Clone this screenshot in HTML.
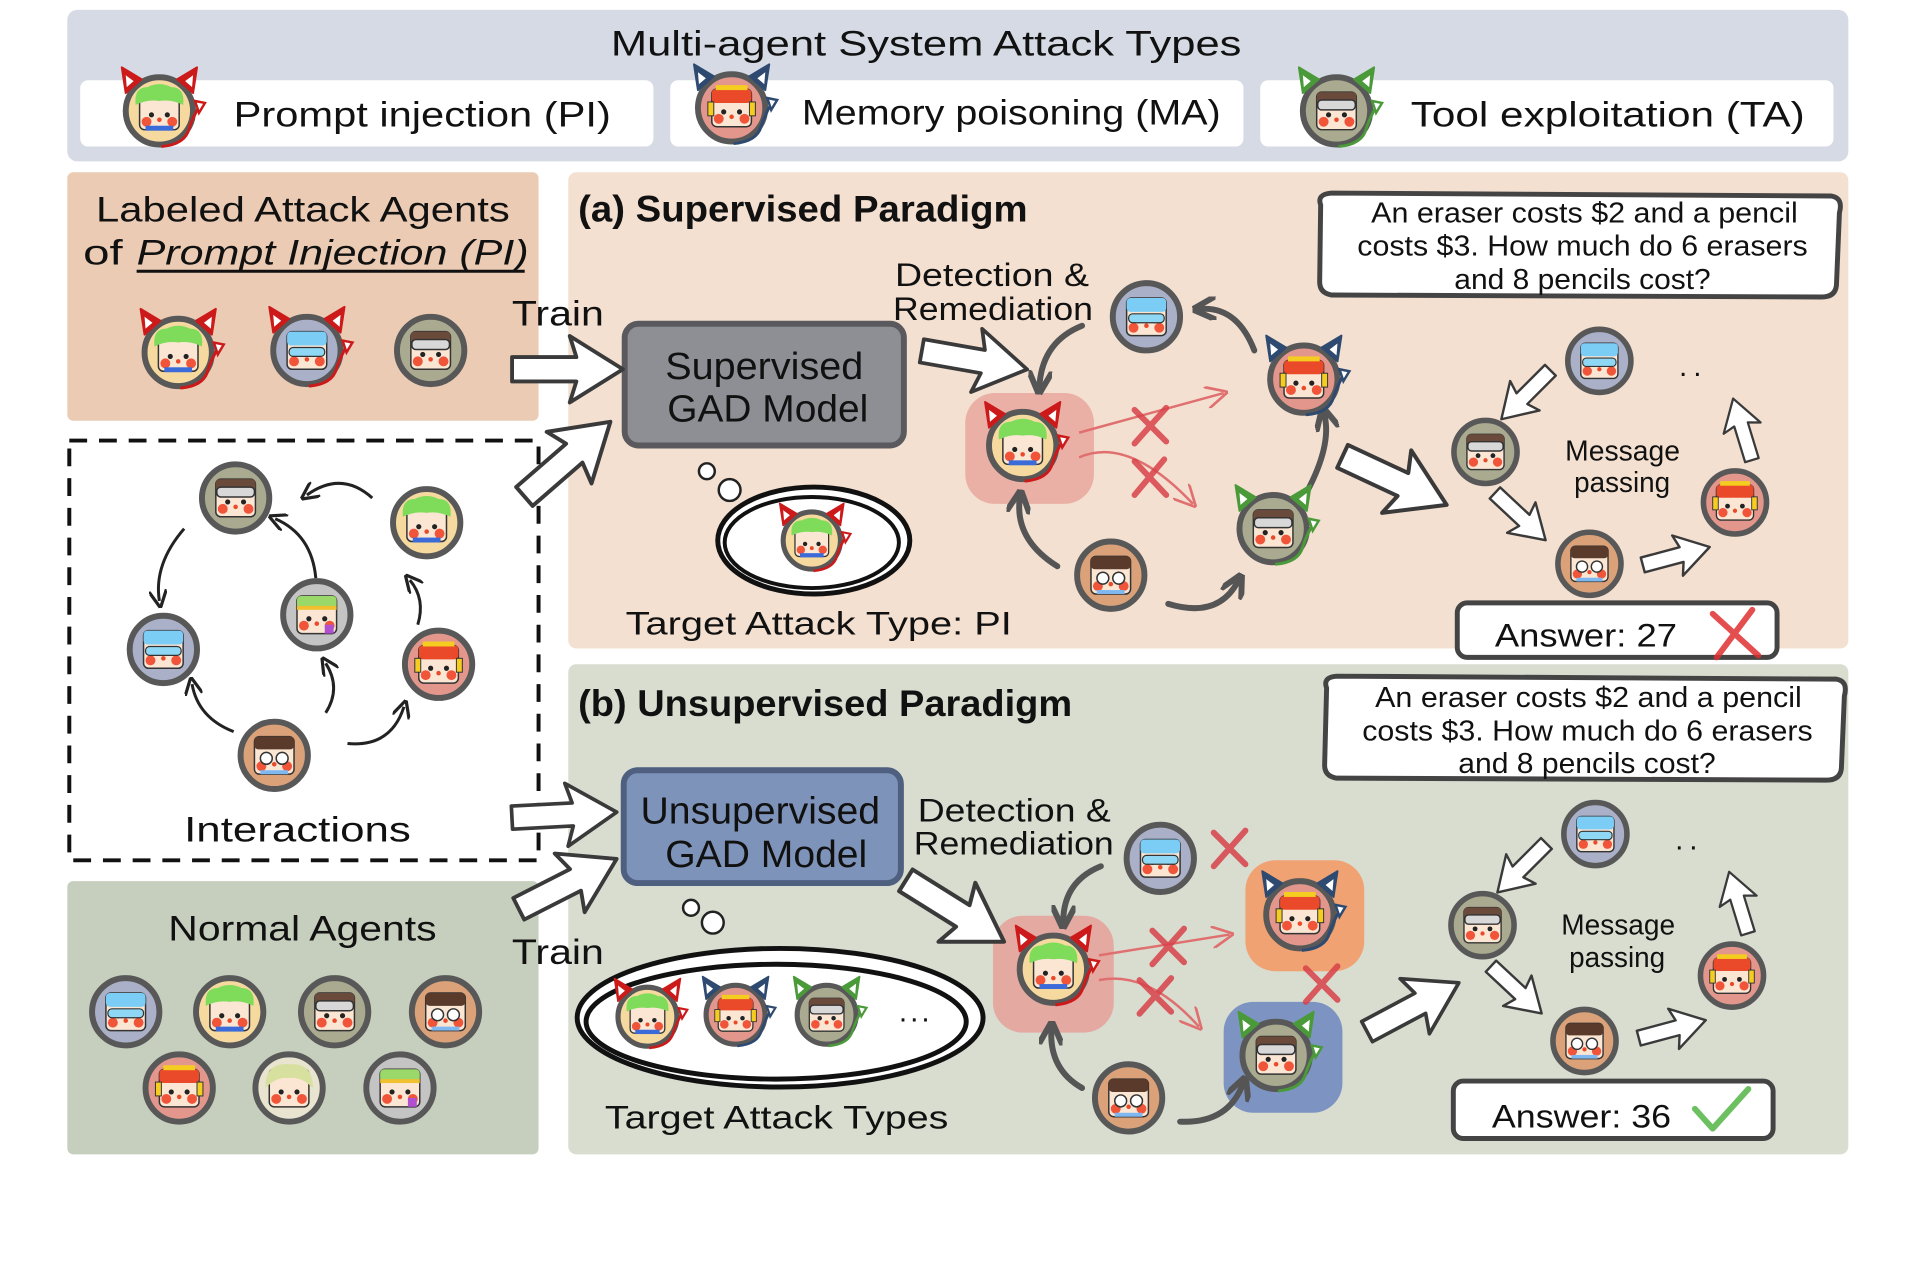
<!DOCTYPE html>
<html><head><meta charset="utf-8"><style>
html,body{margin:0;padding:0;background:#fff;}
svg{display:block;}
text{font-family:"Liberation Sans",sans-serif;fill:#111;}
</style></head><body>
<svg width="1928" height="1276" viewBox="0 0 1928 1276" xmlns="http://www.w3.org/2000/svg">
<defs>
<marker id="ah" viewBox="0 0 10 10" refX="6" refY="5" markerWidth="4" markerHeight="4" orient="auto"><path d="M0,0 L10,5 L0,10" fill="none" stroke="#555" stroke-width="2.5"/></marker>
<marker id="ahk" viewBox="0 0 10 10" refX="6" refY="5" markerWidth="6" markerHeight="6" orient="auto"><path d="M0,0 L10,5 L0,10" fill="none" stroke="#222" stroke-width="1.8"/></marker>
<marker id="ahr" viewBox="0 0 10 10" refX="8" refY="5" markerWidth="9" markerHeight="9" orient="auto"><path d="M0,0 L10,5 L0,10" fill="none" stroke="#e07070" stroke-width="1.2"/></marker>
<symbol id="harrow" viewBox="-2 -32 106 64" overflow="visible"><path d="M0,-11 L58,-11 L52,-30 L100,0 L52,30 L58,11 L0,11 Z" fill="#fff" stroke="#3a3a3a" stroke-width="3.5" stroke-linejoin="round"/></symbol>
<g id="face">
<rect x="-20" y="-19" width="40" height="38" rx="5" fill="#fbe6d4" stroke="#333" stroke-width="1.5"/>
<circle cx="-8" cy="4" r="2.6" fill="#222"/><circle cx="8" cy="4" r="2.6" fill="#222"/>
<circle cx="-13" cy="11" r="5" fill="#f0553a"/><circle cx="13" cy="11" r="5" fill="#f0553a"/>
<circle cx="0" cy="9" r="2.3" fill="#e84a2a"/>
</g>
<symbol id="clown" viewBox="-40 -40 80 80"><circle r="34" fill="#f5d99e" stroke="#585858" stroke-width="6"/><use href="#face"/><path d="M-24,-6 Q-26,-24 -12,-24 Q0,-30 12,-24 Q26,-24 24,-6 Q12,-12 0,-10 Q-12,-12 -24,-6Z" fill="#7fdc5a"/><rect x="-14" y="15" width="28" height="5" fill="#3a6bd8"/></symbol>
<symbol id="blue" viewBox="-40 -40 80 80"><circle r="34" fill="#aab0c8" stroke="#585858" stroke-width="6"/><use href="#face"/><rect x="-20" y="-19" width="40" height="14" rx="4" fill="#7ccdf5"/><rect x="-18" y="-3" width="36" height="9" rx="4" fill="#8fd8f5" stroke="#333" stroke-width="1.2"/></symbol>
<symbol id="pilot" viewBox="-40 -40 80 80"><circle r="34" fill="#a9aa90" stroke="#585858" stroke-width="6"/><use href="#face"/><rect x="-20" y="-19" width="40" height="12" rx="4" fill="#6a4a3a"/><rect x="-19" y="-11" width="38" height="10" rx="4" fill="#d8d8d8" stroke="#333" stroke-width="1.5"/></symbol>
<symbol id="headset" viewBox="-40 -40 80 80"><circle r="34" fill="#e3978c" stroke="#585858" stroke-width="6"/><use href="#face"/><rect x="-20" y="-19" width="40" height="14" rx="4" fill="#ea4a2a"/><rect x="-16" y="-23" width="32" height="5" fill="#f5cc20"/><rect x="-24" y="-6" width="6" height="14" fill="#f5cc20" stroke="#333" stroke-width="1"/><rect x="18" y="-6" width="6" height="14" fill="#f5cc20" stroke="#333" stroke-width="1"/></symbol>
<symbol id="glasses" viewBox="-40 -40 80 80"><circle r="34" fill="#dba27a" stroke="#585858" stroke-width="6"/><use href="#face"/><rect x="-20" y="-19" width="40" height="13" rx="4" fill="#5a3a2a"/><circle cx="-8" cy="3" r="6" fill="#fff" stroke="#333" stroke-width="1.5"/><circle cx="8" cy="3" r="6" fill="#fff" stroke="#333" stroke-width="1.5"/><rect x="-14" y="15" width="28" height="4" fill="#7fb8f0"/></symbol>
<symbol id="cap" viewBox="-40 -40 80 80"><circle r="34" fill="#c4c4c4" stroke="#585858" stroke-width="6"/><use href="#face"/><rect x="-20" y="-19" width="40" height="13" rx="4" fill="#9ad86a"/><rect x="-20" y="-9" width="40" height="4" fill="#f0c030"/><rect x="8" y="10" width="9" height="9" fill="#b050d0"/></symbol>
<symbol id="blonde" viewBox="-40 -40 80 80"><circle r="34" fill="#e8e4d0" stroke="#585858" stroke-width="6"/><use href="#face"/><path d="M-24,0 Q-24,-26 0,-24 Q24,-26 24,0 Q12,-12 0,-10 Q-12,-12 -24,0Z" fill="#d8e0a0"/></symbol>
<symbol id="horns" viewBox="-40 -40 80 80" overflow="visible"><path d="M-34,-18 L-38,-44 L-18,-32 Z M34,-18 L38,-44 L18,-32 Z" fill="currentColor" stroke="currentColor" stroke-width="2" stroke-linejoin="round"/><path d="M-33,-24 L-34,-36 L-26,-30Z M33,-24 L34,-36 L26,-30Z" fill="#fff"/><path d="M2,36 Q26,34 30,18 Q34,6 40,-4" fill="none" stroke="currentColor" stroke-width="3"/><path d="M36,-10 L46,-8 L40,2 Z" fill="#fff" stroke="currentColor" stroke-width="2.5"/></symbol>
</defs>
<g transform="scale(0.99)">
<!-- top banner -->
<rect x="68" y="10" width="1799" height="153" rx="10" fill="#d5dae4"/>
<text x="617" y="56" font-size="36" textLength="637" lengthAdjust="spacingAndGlyphs">Multi-agent System Attack Types</text>
<rect x="81" y="81" width="579" height="67" rx="8" fill="#fff"/>
<rect x="677" y="81" width="579" height="67" rx="8" fill="#fff"/>
<rect x="1273" y="81" width="579" height="67" rx="8" fill="#fff"/>
<use href="#clown" x="121" y="72" width="80" height="80"/><use href="#horns" x="121" y="72" width="80" height="80" color="#cc1a1a"/>
<use href="#headset" x="699" y="69" width="80" height="80"/><use href="#horns" x="699" y="69" width="80" height="80" color="#2e4a70"/>
<use href="#pilot" x="1310" y="72" width="80" height="80"/><use href="#horns" x="1310" y="72" width="80" height="80" color="#4a9a3a"/>
<text x="236" y="128" font-size="36" textLength="381" lengthAdjust="spacingAndGlyphs">Prompt injection (PI)</text>
<text x="810" y="126" font-size="36" textLength="423" lengthAdjust="spacingAndGlyphs">Memory poisoning (MA)</text>
<text x="1425" y="128" font-size="36" textLength="398" lengthAdjust="spacingAndGlyphs">Tool exploitation (TA)</text>

<!-- left panels -->
<rect x="68" y="174" width="476" height="251" rx="6" fill="#ebcbb3"/>
<text x="97" y="224" font-size="36" textLength="418" lengthAdjust="spacingAndGlyphs">Labeled Attack Agents</text>
<text x="84" y="267" font-size="36" textLength="40" lengthAdjust="spacingAndGlyphs">of</text>
<text x="138" y="267" font-size="36" font-style="italic" textLength="396" lengthAdjust="spacingAndGlyphs">Prompt Injection (PI)</text>
<line x1="138" y1="274" x2="530" y2="274" stroke="#111" stroke-width="3"/>
<use href="#clown" x="140" y="316" width="80" height="80"/><use href="#horns" x="140" y="316" width="80" height="80" color="#cc1a1a"/>
<use href="#blue" x="270" y="314" width="80" height="80"/><use href="#horns" x="270" y="314" width="80" height="80" color="#cc1a1a"/>
<use href="#pilot" x="395" y="314" width="80" height="80"/>

<rect x="70" y="445" width="474" height="424" fill="none" stroke="#111" stroke-width="4" stroke-dasharray="18 12"/>
<use href="#pilot" x="198" y="463" width="80" height="80"/>
<use href="#clown" x="391" y="488" width="80" height="80"/>
<use href="#cap" x="280" y="581" width="80" height="80"/>
<use href="#blue" x="125" y="616" width="80" height="80"/>
<use href="#headset" x="403" y="631" width="80" height="80"/>
<use href="#glasses" x="237" y="723" width="80" height="80"/>
<g fill="none" stroke="#222" stroke-width="3" marker-end="url(#ahk)">
<path d="M376,503 Q345,475 310,500"/><path d="M319,584 Q315,540 278,524"/><path d="M186,534 Q155,570 161,607"/><path d="M236,739 Q200,725 194,691"/><path d="M329,720 Q345,695 329,670"/><path d="M351,751 Q395,755 408,714"/><path d="M422,631 Q430,605 414,586"/>
</g>
<text x="186" y="850" font-size="36" textLength="229" lengthAdjust="spacingAndGlyphs">Interactions</text>

<rect x="68" y="890" width="476" height="276" rx="6" fill="#c6cfbd"/>
<text x="170" y="950" font-size="36" textLength="271" lengthAdjust="spacingAndGlyphs">Normal Agents</text>
<use href="#blue" x="87" y="982" width="80" height="80"/>
<use href="#clown" x="192" y="982" width="80" height="80"/>
<use href="#pilot" x="298" y="982" width="80" height="80"/>
<use href="#glasses" x="410" y="982" width="80" height="80"/>
<use href="#headset" x="141" y="1059" width="80" height="80"/>
<use href="#blonde" x="252" y="1059" width="80" height="80"/>
<use href="#cap" x="364" y="1059" width="80" height="80"/>

<!-- supervised panel -->
<rect x="574" y="174" width="1293" height="481" rx="8" fill="#f3e0d1"/>
<text x="584" y="224" font-size="37" font-weight="bold" textLength="454" lengthAdjust="spacingAndGlyphs">(a) Supervised Paradigm</text>
<text x="517" y="329" font-size="36" textLength="93" lengthAdjust="spacingAndGlyphs">Train</text>
<rect x="631" y="327" width="282" height="123" rx="14" fill="#8e8f95" stroke="#5a5a5e" stroke-width="6"/>
<text x="672" y="383" font-size="38" textLength="200" lengthAdjust="spacingAndGlyphs">Supervised</text>
<text x="674" y="426" font-size="38" textLength="203" lengthAdjust="spacingAndGlyphs">GAD Model</text>
<circle cx="714" cy="476" r="8" fill="#fff" stroke="#222" stroke-width="2.5"/>
<circle cx="737" cy="495" r="11" fill="#fff" stroke="#222" stroke-width="2.5"/>
<ellipse cx="822" cy="546" rx="97" ry="54" fill="#fff" stroke="#111" stroke-width="5"/>
<ellipse cx="820" cy="548" rx="88" ry="46" fill="none" stroke="#111" stroke-width="4"/>
<use href="#clown" x="786" y="512" width="68" height="68"/><use href="#horns" x="786" y="512" width="68" height="68" color="#cc1a1a"/>
<text x="632" y="641" font-size="33" textLength="390" lengthAdjust="spacingAndGlyphs">Target Attack Type: PI</text>
<text x="904" y="289" font-size="33" textLength="196" lengthAdjust="spacingAndGlyphs">Detection &amp;</text>
<text x="902" y="323" font-size="33" textLength="202" lengthAdjust="spacingAndGlyphs">Remediation</text>

<rect x="975" y="397" width="130" height="112" rx="30" fill="#eab0a6"/>
<g fill="none" stroke="#e07070" stroke-width="2.5" marker-end="url(#ahr)"><path d="M1090,437 L1236,397"/><path d="M1090,462 Q1140,440 1205,509"/></g>
<g stroke="#d8424a" stroke-width="6" stroke-linecap="round" opacity="0.85"><path d="M1146,414 L1178,446 M1178,412 L1146,448"/><path d="M1146,466 L1178,500 M1176,464 L1146,500"/></g>
<g fill="none" stroke="#555" stroke-width="6" stroke-linecap="round" marker-end="url(#ah)">
<path d="M1093,329 Q1053,345 1050,389"/><path d="M1267,354 Q1250,310 1214,312"/><path d="M1320,497 Q1345,450 1338,420"/><path d="M1180,610 Q1230,625 1250,588"/><path d="M1068,572 Q1025,545 1030,504"/>
</g>
<use href="#clown" x="993" y="410" width="80" height="80"/><use href="#horns" x="993" y="410" width="80" height="80" color="#cc1a1a"/>
<use href="#blue" x="1118" y="280" width="80" height="80"/>
<use href="#headset" x="1277" y="343" width="80" height="80"/><use href="#horns" x="1277" y="343" width="80" height="80" color="#2e4a70"/>
<use href="#pilot" x="1246" y="494" width="80" height="80"/><use href="#horns" x="1246" y="494" width="80" height="80" color="#4a9a3a"/>
<use href="#glasses" x="1082" y="541" width="80" height="80"/>

<path d="M1334,207 Q1330,196 1345,195 L1850,198 Q1862,200 1858,215 L1855,288 Q1854,300 1840,300 L1345,298 Q1333,296 1333,285 Z" fill="#fff" stroke="#444" stroke-width="5"/>
<text x="1385" y="225" font-size="29" textLength="431" lengthAdjust="spacingAndGlyphs">An eraser costs $2 and a pencil</text>
<text x="1371" y="258" font-size="29" textLength="455" lengthAdjust="spacingAndGlyphs">costs $3. How much do 6 erasers</text>
<text x="1469" y="292" font-size="29" textLength="259" lengthAdjust="spacingAndGlyphs">and 8 pencils cost?</text>
<use href="#blue" x="1578" y="327" width="75" height="75"/>
<use href="#pilot" x="1463" y="419" width="75" height="75"/>
<use href="#headset" x="1715" y="470" width="75" height="75"/>
<use href="#glasses" x="1568" y="532" width="75" height="75"/>
<text x="1696" y="380" font-size="30" letter-spacing="6">..</text>
<text x="1581" y="465" font-size="29" textLength="116" lengthAdjust="spacingAndGlyphs">Message</text>
<text x="1590" y="497" font-size="29" textLength="97" lengthAdjust="spacingAndGlyphs">passing</text>
<use href="#harrow" transform="translate(1567,373) rotate(135) scale(0.7)" x="0" y="-32" width="106" height="64"/>
<use href="#harrow" transform="translate(1509,497) rotate(43) scale(0.7)" x="0" y="-32" width="106" height="64"/>
<use href="#harrow" transform="translate(1658,571) rotate(-15) scale(0.7)" x="0" y="-32" width="106" height="64"/>
<use href="#harrow" transform="translate(1770,466) rotate(-107) scale(0.65)" x="0" y="-32" width="106" height="64"/>
<rect x="1472" y="609" width="323" height="55" rx="10" fill="#fff" stroke="#444" stroke-width="5"/>
<text x="1510" y="653" font-size="33" textLength="184" lengthAdjust="spacingAndGlyphs">Answer:  27</text>
<g stroke="#e03030" stroke-width="6" stroke-linecap="round" opacity="0.85"><path d="M1730,620 L1776,662 M1770,616 L1734,664"/></g>

<!-- unsupervised panel -->
<rect x="574" y="671" width="1293" height="495" rx="8" fill="#d8ddd0"/>
<text x="584" y="723" font-size="37" font-weight="bold" textLength="499" lengthAdjust="spacingAndGlyphs">(b) Unsupervised Paradigm</text>
<text x="517" y="974" font-size="36" textLength="93" lengthAdjust="spacingAndGlyphs">Train</text>
<rect x="630" y="778" width="280" height="114" rx="14" fill="#7d93b9" stroke="#4e5f80" stroke-width="6"/>
<text x="647" y="832" font-size="38" textLength="242" lengthAdjust="spacingAndGlyphs">Unsupervised</text>
<text x="672" y="876" font-size="38" textLength="204" lengthAdjust="spacingAndGlyphs">GAD Model</text>
<circle cx="698" cy="917" r="8" fill="#fff" stroke="#222" stroke-width="2.5"/>
<circle cx="720" cy="932" r="11" fill="#fff" stroke="#222" stroke-width="2.5"/>
<ellipse cx="788" cy="1028" rx="205" ry="70" fill="#fff" stroke="#111" stroke-width="5"/>
<ellipse cx="784" cy="1032" rx="192" ry="58" fill="none" stroke="#111" stroke-width="5"/>
<use href="#clown" x="619" y="992" width="70" height="70"/><use href="#horns" x="619" y="992" width="70" height="70" color="#cc1a1a"/>
<use href="#headset" x="708" y="990" width="70" height="70"/><use href="#horns" x="708" y="990" width="70" height="70" color="#2e4a70"/>
<use href="#pilot" x="800" y="990" width="70" height="70"/><use href="#horns" x="800" y="990" width="70" height="70" color="#4a9a3a"/>
<text x="908" y="1032" font-size="30" letter-spacing="3">...</text>
<text x="611" y="1140" font-size="33" textLength="347" lengthAdjust="spacingAndGlyphs">Target Attack Types</text>
<text x="927" y="830" font-size="33" textLength="195" lengthAdjust="spacingAndGlyphs">Detection &amp;</text>
<text x="923" y="863" font-size="33" textLength="202" lengthAdjust="spacingAndGlyphs">Remediation</text>

<rect x="1003" y="925" width="122" height="118" rx="30" fill="#e4aaa2"/>
<rect x="1258" y="869" width="120" height="112" rx="30" fill="#f1a272"/>
<rect x="1236" y="1012" width="120" height="112" rx="30" fill="#7d94c2"/>
<g fill="none" stroke="#e07070" stroke-width="2.5" marker-end="url(#ahr)"><path d="M1110,965 L1242,944"/><path d="M1110,990 Q1160,980 1211,1037"/></g>
<g stroke="#d8424a" stroke-width="6" stroke-linecap="round" opacity="0.85"><path d="M1164,940 L1196,972 M1196,938 L1164,974"/><path d="M1151,990 L1183,1022 M1183,988 L1151,1024"/><path d="M1226,841 L1258,873 M1258,839 L1226,875"/><path d="M1319,978 L1351,1010 M1351,976 L1319,1012"/></g>
<g fill="none" stroke="#555" stroke-width="6" stroke-linecap="round" marker-end="url(#ah)">
<path d="M1112,875 Q1075,890 1074,929"/><path d="M1093,1099 Q1060,1080 1062,1041"/><path d="M1192,1133 Q1240,1135 1255,1096"/>
</g>
<use href="#clown" x="1024" y="939" width="80" height="80"/><use href="#horns" x="1024" y="939" width="80" height="80" color="#cc1a1a"/>
<use href="#blue" x="1132" y="827" width="80" height="80"/>
<use href="#headset" x="1273" y="884" width="80" height="80"/><use href="#horns" x="1273" y="884" width="80" height="80" color="#2e4a70"/>
<use href="#pilot" x="1249" y="1026" width="80" height="80"/><use href="#horns" x="1249" y="1026" width="80" height="80" color="#4a9a3a"/>
<use href="#glasses" x="1100" y="1069" width="80" height="80"/>

<path d="M1340,695 Q1336,684 1350,683 L1855,686 Q1867,688 1863,703 L1860,776 Q1859,788 1845,788 L1350,786 Q1338,784 1338,773 Z" fill="#fff" stroke="#444" stroke-width="5"/>
<text x="1389" y="714" font-size="29" textLength="431" lengthAdjust="spacingAndGlyphs">An eraser costs $2 and a pencil</text>
<text x="1376" y="748" font-size="29" textLength="455" lengthAdjust="spacingAndGlyphs">costs $3. How much do 6 erasers</text>
<text x="1473" y="781" font-size="29" textLength="260" lengthAdjust="spacingAndGlyphs">and 8 pencils cost?</text>
<use href="#blue" x="1574" y="805" width="75" height="75"/>
<use href="#pilot" x="1460" y="897" width="75" height="75"/>
<use href="#headset" x="1712" y="948" width="75" height="75"/>
<use href="#glasses" x="1563" y="1014" width="75" height="75"/>
<text x="1692" y="858" font-size="30" letter-spacing="6">..</text>
<text x="1577" y="944" font-size="29" textLength="115" lengthAdjust="spacingAndGlyphs">Message</text>
<text x="1585" y="977" font-size="29" textLength="97" lengthAdjust="spacingAndGlyphs">passing</text>
<use href="#harrow" transform="translate(1563,851) rotate(135) scale(0.7)" x="0" y="-32" width="106" height="64"/>
<use href="#harrow" transform="translate(1505,975) rotate(43) scale(0.7)" x="0" y="-32" width="106" height="64"/>
<use href="#harrow" transform="translate(1654,1049) rotate(-15) scale(0.7)" x="0" y="-32" width="106" height="64"/>
<use href="#harrow" transform="translate(1766,944) rotate(-107) scale(0.65)" x="0" y="-32" width="106" height="64"/>
<rect x="1468" y="1092" width="323" height="58" rx="10" fill="#fff" stroke="#444" stroke-width="5"/>
<text x="1507" y="1139" font-size="33" textLength="181" lengthAdjust="spacingAndGlyphs">Answer:  36</text>
<path d="M1712,1120 L1730,1140 L1766,1100" fill="none" stroke="#6cc060" stroke-width="6" stroke-linecap="round" stroke-linejoin="round"/>

<!-- big hollow arrows -->
<use href="#harrow" transform="translate(515,373) scale(1.12)" x="0" y="-32" width="106" height="64"/>
<use href="#harrow" transform="translate(528,503) rotate(-41) scale(1.15)" x="0" y="-32" width="106" height="64"/>
<use href="#harrow" transform="translate(515,826) rotate(-3) scale(1.06)" x="0" y="-32" width="106" height="64"/>
<use href="#harrow" transform="translate(522,919) rotate(-27) scale(1.11)" x="0" y="-32" width="106" height="64"/>
<use href="#harrow" transform="translate(929,354) rotate(10) scale(1.08)" x="0" y="-32" width="106" height="64"/>
<use href="#harrow" transform="translate(1354,460) rotate(25) scale(1.16)" x="0" y="-32" width="106" height="64"/>
<use href="#harrow" transform="translate(913,888) rotate(32) scale(1.17)" x="0" y="-32" width="106" height="64"/>
<use href="#harrow" transform="translate(1379,1043) rotate(-28) scale(1.05)" x="0" y="-32" width="106" height="64"/>
</g>
</svg>
</body></html>
